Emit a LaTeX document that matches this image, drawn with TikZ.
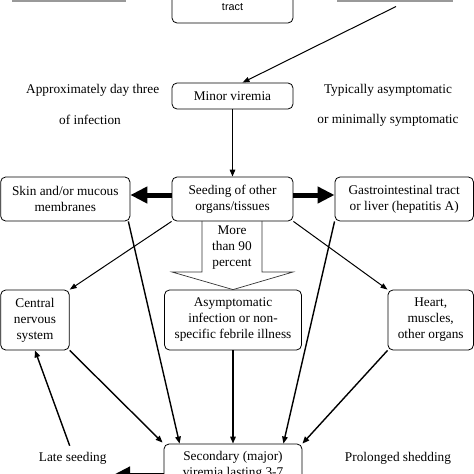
\documentclass[tikz,border=0pt]{standalone}
\usepackage{fontspec}
\setmainfont{Liberation Serif}
\newfontfamily\arialf{Liberation Sans}
\usetikzlibrary{arrows.meta,calc}
\begin{document}
\begin{tikzpicture}[x=1pt,y=-1pt,
 box/.style={draw, rounded corners=5pt, line width=0.8pt, align=center, inner sep=0pt, font=\fontsize{13.3}{16}\selectfont},
 graybox/.style={draw=gray!80, line width=1.6pt, inner sep=0pt},
 lbl/.style={align=center, font=\fontsize{13.3}{16}\selectfont, inner sep=0pt},
 thinarr/.style={line width=1pt, -{Triangle[length=7pt,width=5pt]}},
 medarr/.style={line width=1.4pt, -{Triangle[length=7pt,width=5.5pt]}},
 thickarr/.style={line width=5pt, -{Triangle[length=17pt,width=16pt]}},
]
\useasboundingbox (0,0) rectangle (474,474);
\clip (0,0) rectangle (474,474);

% top boxes (cropped)
\node[graybox, minimum width=112pt, minimum height=40pt] (tl) at (69,-19.3) {};
\node[graybox, minimum width=114pt, minimum height=40pt] (tr) at (395,-19.3) {};
\node[box, minimum width=121pt, minimum height=60pt] (top) at (232.5,-7) {};
\node[inner sep=0pt, font=\arialf\fontsize{10.8}{13}\selectfont] (tract) at (232.5,7) {tract};

% main boxes
\node[box, minimum width=121pt, minimum height=26pt] (minor) at (232.5,96) {Minor viremia};
\node[box, minimum width=121pt, minimum height=44pt] (seed) at (232.5,199) {Seeding of other\\organs/tissues};
\node[box, minimum width=129.3pt, minimum height=44pt] (skin) at (65.3,199) {Skin and/or mucous\\membranes};
\node[box, minimum width=138.5pt, minimum height=44pt] (gi) at (404.2,199) {Gastrointestinal tract\\or liver (hepatitis A)};
\node[box, minimum width=68.6pt, minimum height=60pt] (cns) at (35,320) {Central\\nervous\\system};
\node[box, minimum width=137pt, minimum height=60pt] (asym) at (233,320) {Asymptomatic\\infection or non-\\specific febrile illness};
\node[box, minimum width=85.5pt, minimum height=60pt] (heart) at (430.7,320) {Heart,\\muscles,\\other organs};
\node[box, minimum width=138pt, minimum height=70pt] (sec) at (233,479) {};
\node[lbl] (sectext) at (233,465) {Secondary (major)\\viremia lasting 3-7};

% free labels
\node[lbl] (l1) at (92.7,90) {Approximately day three};
\node[lbl] (l2) at (90,120) {of infection};
\node[lbl] (r1) at (388,90) {Typically asymptomatic};
\node[lbl] (r2) at (388,120) {or minimally symptomatic};
\node[lbl] (late) at (72.7,458) {Late seeding};
\node[lbl] (prol) at (398,458) {Prolonged shedding};

% connectors
\draw[thinarr] ($(tr.south)+(1,5)$) -- ($(minor.north)+(10,0)$);
\draw[medarr] (minor.south) -- (seed.north);
\draw[thickarr] ($(seed.west)+(0,-4)$) -- ($(skin.east)+(0,-4)$);
\draw[thickarr] ($(seed.east)+(0,-4)$) -- ($(gi.west)+(0,-4)$);
\draw[thinarr] (seed.south west) -- (cns.north east);
\draw[thinarr] (seed.south east) -- (heart.north west);

% hollow arrow
\draw[line width=0.7pt, draw=black!80] (202,221) -- (202,272) -- (172,272) -- (asym.north) -- (293,272) -- (262,272) -- (262,221);
\node[lbl] (more) at (232,248) {More\\than 90\\percent};

% into secondary
\draw[medarr] ($(skin.south east)+(-2,0)$) -- ($(sec.north west)+(16,0)$);
\draw[medarr] (cns.south east) -- ($(sec.north west)+(-1,-1)$);
\draw[medarr] (asym.south) -- (asym.south |- sec.north);
\draw[medarr] (gi.south west) -- ($(sec.north east)+(-19,0)$);
\draw[medarr] (heart.south west) -- (sec.north east);
\draw[medarr] ($(late.north)+(-3,-6)$) -- ($(cns.south)+(0,0)$);
\coordinate (lateend) at (113,475);
\draw[thickarr] (sec.west |- lateend) -- (lateend);
\end{tikzpicture}
\end{document}
